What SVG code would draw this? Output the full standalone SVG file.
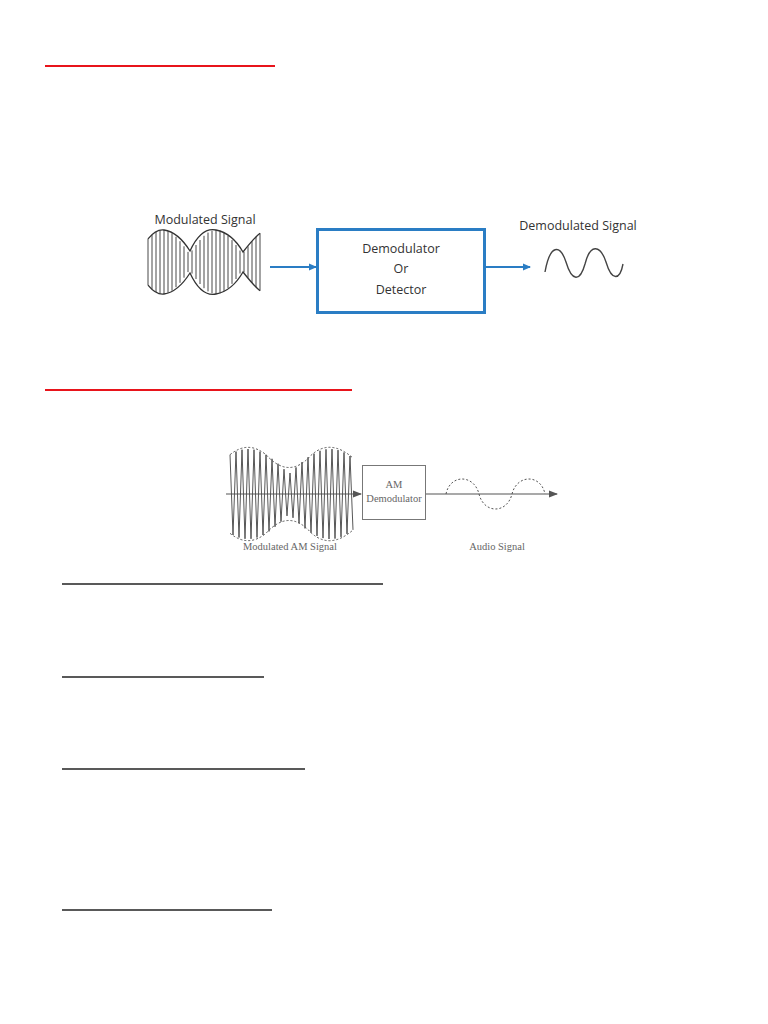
<svg xmlns="http://www.w3.org/2000/svg" width="768" height="1024" viewBox="0 0 768 1024">
<style>
.lbl{font-family:"Open Sans","Liberation Sans",sans-serif;font-size:12.5px;fill:#333}
.ser{font-family:"Liberation Serif",serif;font-size:10.5px;fill:#666}
.blue{stroke:#2a7dc4;fill:none}
.g{stroke:#555;fill:none}
</style>
<defs>
<marker id="ab" markerWidth="8" markerHeight="8" refX="7" refY="4" orient="auto" markerUnits="userSpaceOnUse"><path d="M0,0.5 L8,4 L0,7.5 Z" fill="#2a7dc4"/></marker>
<marker id="ag" markerWidth="9" markerHeight="8" refX="8" refY="4" orient="auto" markerUnits="userSpaceOnUse"><path d="M0,0.5 L9,4 L0,7.5 Z" fill="#555"/></marker>
</defs>
<rect width="768" height="1024" fill="#fff"/>
<g id="rules">
<line x1="45" y1="66" x2="275" y2="66" stroke="#e8141b" stroke-width="2"/>
<line x1="45" y1="390" x2="352" y2="390" stroke="#e8141b" stroke-width="2"/>
<g stroke="#222" stroke-width="1.3">
<line x1="62" y1="584" x2="383" y2="584"/>
<line x1="62" y1="677" x2="264" y2="677"/>
<line x1="62" y1="769" x2="305" y2="769"/>
<line x1="62" y1="910" x2="272" y2="910"/>
</g>
</g>
<g id="modulated-signal">
<text class="lbl" x="205" y="224" text-anchor="middle">Modulated Signal</text>
<path stroke="#333" stroke-width="0.9" fill="none" d="M148,238.9V285.1 M152,234.9V289.1 M156,232V292 M160,230.4V293.6 M164,230V294 M168,231.1V292.9 M172,233.3V290.7 M176,236.8V287.2 M180,241.2V282.8 M184,246.3V277.7 M188,251.9V272.1 M192,250.4V273.6 M196,245V279 M200,240V284 M204,235.8V288.2 M208,232.6V291.4 M212,230.7V293.3 M216,230V294 M220,230.7V293.3 M224,232.7V291.3 M228,235.9V288.1 M232,240.1V283.9 M236,245V279 M240,250.5V273.5 M244,251.8V272.2 M248,246.3V277.7 M252,241.2V282.8 M256,236.8V287.2 M260,233.3V290.7"/>
<path stroke="#333" stroke-width="1.3" fill="none" d="M148,238.9 Q156,229 164,230 Q178,232 190,251 Q201,227 216,230 Q232,233 243,252 Q254,238 260,233.3 M148,285.1 Q156,295 164,294 Q178,292 190,273 Q201,297 216,294 Q232,291 243,272 Q254,286 260,290.7"/>
</g>
<g id="detector">
<rect x="317.5" y="229.5" width="167" height="83" class="blue" stroke-width="3"/>
<text class="lbl" x="401" y="253" text-anchor="middle">Demodulator</text>
<text class="lbl" x="401" y="273" text-anchor="middle">Or</text>
<text class="lbl" x="401" y="294" text-anchor="middle">Detector</text>
</g>
<g id="demodulated-signal">
<text class="lbl" x="578" y="230" text-anchor="middle">Demodulated Signal</text>
<path stroke="#444" stroke-width="1.4" fill="none" d="M545,272 C550,244 560,244 566,262 C572,282 580,282 585,264 C590,244 600,244 606,262 C612,282 620,280 623,264"/>
</g>
<g id="am-wave">
<polyline fill="none" stroke="#444" stroke-width="0.9" points="230,454.7 233,535 236,451.6 239,537.5 242,449.7 245,538.8 248,449 251,538.8 254,449.7 257,537.5 260,451.6 263,535 266,454.7 269,531.4 272,458.8 275,526.8 278,463.7 281,521.6 284,469.2 287,515.9 290,473 293,517.8 296,467.4 299,523.3 302,462.1 305,528.4 308,457.3 311,532.7 314,453.6 317,535.9 320,450.8 323,538.1 326,449.3 329,539 332,449.1 335,538.6 338,450.1 341,536.9 344,452.5 347,533.9 350,456 353,529.9"/>
<path fill="none" stroke="#555" stroke-width="1" stroke-dasharray="2,2" d="M230,454.7 Q248,440 266,454.7 Q289,480 311,455.3 Q330,438 353,458 M230,533.3 Q248,548 266,533.3 Q289,508 311,532.7 Q330,550 353,530"/>
<text class="ser" x="290" y="550" text-anchor="middle">Modulated AM Signal</text>
</g>
<g id="am-demodulator">
<rect x="362.5" y="465.5" width="63" height="54" fill="#fff" stroke="#777" stroke-width="1"/>
<text class="ser" x="394" y="488" text-anchor="middle">AM</text>
<text class="ser" x="394" y="502" text-anchor="middle">Demodulator</text>
</g>
<g id="audio-signal">
<path fill="none" stroke="#555" stroke-width="1" stroke-dasharray="2,2" d="M446,494 C450,474 474,474 479,494 C484,514 507,514 512,494 C517,474 541,474 545,494"/>
<text class="ser" x="497" y="550" text-anchor="middle">Audio Signal</text>
</g>
<g id="connectors">
<line x1="270" y1="267" x2="316" y2="267" class="blue" stroke-width="2" marker-end="url(#ab)"/>
<line x1="486" y1="267" x2="530" y2="267" class="blue" stroke-width="2" marker-end="url(#ab)"/>
<line x1="226" y1="494" x2="361" y2="494" class="g" stroke-width="1.2" marker-end="url(#ag)"/>
<line x1="426" y1="494" x2="557" y2="494" class="g" stroke-width="1.2" marker-end="url(#ag)"/>
</g>
</svg>
